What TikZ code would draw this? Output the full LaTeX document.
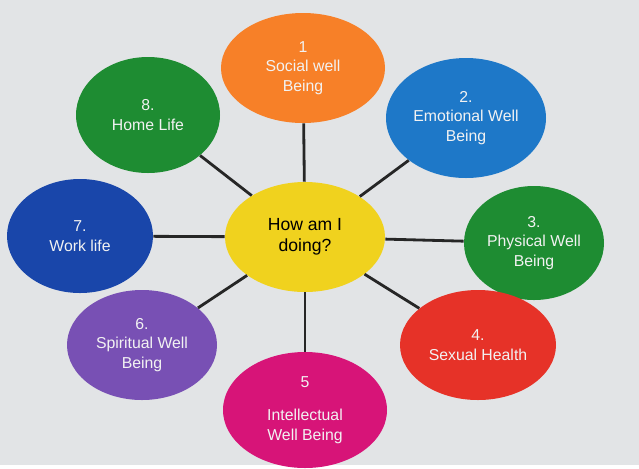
\documentclass[tikz,border=0pt]{standalone}
\usepackage{fontspec}
\setmainfont{Liberation Sans}
\usetikzlibrary{shapes.geometric}
\definecolor{bg}{RGB}{226,228,230}
\definecolor{corange}{RGB}{247,128,40}
\definecolor{cblue}{RGB}{30,120,200}
\definecolor{cgreen}{RGB}{30,140,50}
\definecolor{cred}{RGB}{230,50,40}
\definecolor{cmag}{RGB}{215,20,120}
\definecolor{cpurple}{RGB}{120,80,180}
\definecolor{cnavy}{RGB}{25,70,170}
\definecolor{cyel}{RGB}{240,210,30}
\tikzset{
  bubble/.style = {shape=ellipse, inner sep=0pt, align=center,
                   text=white!90!gray, font=\small},
  size/.style 2 args = {minimum width=#1*0.02cm, minimum height=#2*0.02cm},
  hub/.style    = {bubble, fill=cyel, text=black, font=\normalsize},
  spoke/.style  = {line width=1.6pt, black!85}
}
\begin{document}
\begin{tikzpicture}[x=0.02cm,y=-0.02cm]
  \fill[bg] (0,0) rectangle (639,465);
  \node[hub, size={160}{110}] (c) at (305,237) {How am I\\doing?};
  \node[bubble, fill=corange, size={164}{110}] (n1) at (303,68) {1\\Social well\\Being};
  \node[bubble, fill=cblue, size={160}{120}] (n2) at (466,118) {2.\\Emotional Well\\Being};
  \node[bubble, fill=cgreen, size={140}{114}] (n3) at (534,243) {3.\\Physical Well\\Being};
  \node[bubble, fill=cred, size={156}{110}] (n4) at (478,345) {4.\\Sexual Health};
  \node[bubble, fill=cmag, size={164}{116}] (n5) at (305,410) {5\\[8pt]Intellectual\\Well Being};
  \node[bubble, fill=cpurple, size={150}{110}] (n6) at (142,345) {6.\\Spiritual Well\\Being};
  \node[bubble, fill=cnavy, size={146}{114}] (n7) at (80,236) {7.\\Work life};
  \node[bubble, fill=cgreen, size={144}{116}] (n8) at (148,115) {8.\\Home Life};
  \foreach \n in {n1,n2,n3,n4,n5,n6,n7,n8}
    \draw[spoke] (c) -- (\n);
\end{tikzpicture}
\end{document}
